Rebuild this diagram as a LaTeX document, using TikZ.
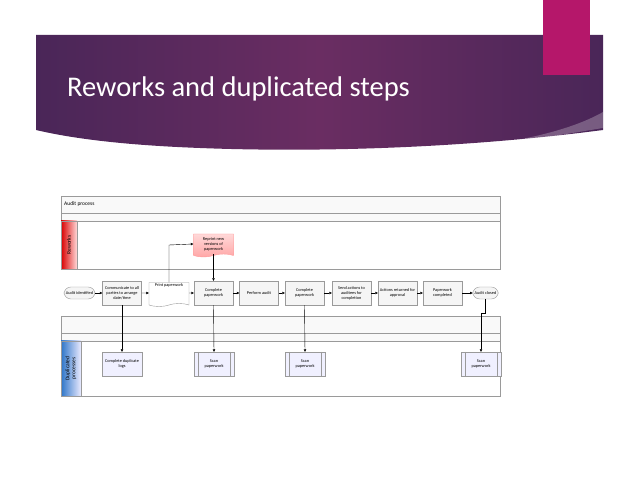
\documentclass[tikz,border=0pt]{standalone}
\usepackage{fontspec}
\setmainfont{Carlito}
\usetikzlibrary{arrows.meta,shapes.symbols,calc}
\definecolor{ban}{HTML}{4A2658}
\definecolor{banmid}{HTML}{6A2D62}
\definecolor{pinkr}{HTML}{B5176A}
\definecolor{lanel}{HTML}{9A9A9A}
\definecolor{bluh}{HTML}{2E75C8}
\tikzset{
 x=1pt,y=-1pt,
 proc/.style={draw=lanel,fill=gray!8,minimum width=39pt,minimum height=24pt,inner sep=1pt,align=center,font=\fontsize{4.3}{5}\selectfont},
 term/.style={draw=lanel,fill=gray!8,rounded corners=7pt,minimum height=12pt,inner sep=2pt,font=\fontsize{4.3}{5}\selectfont},
 doc/.style={tape,tape bend top=none,tape bend height=3pt,draw=lanel,minimum width=40pt,minimum height=24pt,inner sep=1pt,align=center,font=\fontsize{4.3}{5}\selectfont},
 dup/.style={draw=lanel,fill=blue!6,minimum width=40pt,minimum height=24pt,inner sep=1pt,align=center,font=\fontsize{4.3}{5}\selectfont},
 arr/.style={draw=black,-{Triangle[length=2.5pt,width=2.5pt]},line width=0.4pt},
}
\begin{document}
\begin{tikzpicture}
\useasboundingbox (0,0) rectangle (638,478);
% banner
\shade[left color=ban,right color=ban,middle color=banmid] (36,35) -- (603,35) -- (603,130) .. controls (450,150) and (300,152) .. (200,148) .. controls (120,145) and (70,138) .. (36,130) -- cycle;
\fill[white,opacity=0.25] (603,112) -- (603,128) .. controls (560,135) and (520,142) .. (470,147) .. controls (530,140) and (575,128) .. cycle;
\fill[pinkr] (543,0) rectangle (590,75);
\node[anchor=base west,text=white,font=\fontsize{28.5}{32}\selectfont,inner sep=0] (title) at (67,97) {Reworks and duplicated steps};
% lanes
\draw[lanel,fill=gray!5] (61,196) rectangle (500,213);
\node[anchor=west,font=\fontsize{5.5}{6}\selectfont,inner sep=0] (ap) at (64,204.5) {Audit process};
\draw[lanel,fill=gray!5] (61,213) rectangle (500,221);
\draw[lanel] (61,221) rectangle (500,269);
\shade[left color=red!85!black,right color=red!15] (61,221) rectangle (77,269);
\draw[lanel] (61,221) rectangle (77,269);
\node[rotate=90,font=\fontsize{5.5}{6}\selectfont,text=black] (rw) at (69,245) {Reworks};
\draw[lanel,fill=gray!5] (61,316) rectangle (500,333);
\draw[lanel,fill=gray!5] (61,333) rectangle (500,341);
\draw[lanel] (61,341) rectangle (500,396);
\shade[left color=bluh,right color=blue!8] (61,341) rectangle (81,396);
\draw[lanel] (61,341) rectangle (81,396);
\node[rotate=90,align=center,font=\fontsize{5.5}{6}\selectfont] (dp) at (71,368.5) {Duplicated\\processes};
% main flow
\node[term] (a1) at (79.5,293) {Audit identified};
\node[proc] (a2) at (122,293) {Communicate to all\\parties to arrange\\date/time};
\node[doc,fill=white] (a3) at (169,293) {Print paperwork\\[10pt]};
\node[proc] (a4) at (213.5,293) {Complete\\paperwork};
\node[proc] (a5) at (259,293) {Perform audit};
\node[proc] (a6) at (304.5,293) {Complete\\paperwork};
\node[proc] (a7) at (351.5,293) {Send actions to\\auditees for\\completion};
\node[proc] (a8) at (397.5,293) {Actions returned for\\approval};
\node[proc] (a9) at (442.5,293) {Paperwork\\completed};
\node[term] (a10) at (485.5,293) {Audit closed};
\node[doc,minimum height=23pt,top color=red!15,bottom color=red!35,draw=red!40] (rp) at (213.5,244) {Reprint new\\versions of\\paperwork};
\foreach \i/\j in {a1/a2,a2/a3,a3/a4,a4/a5,a5/a6,a6/a7,a7/a8,a8/a9,a9/a10}
 \draw[arr] (\i) -- (\j);
\draw[arr] (a3.north) -- (169,245) -- (rp.west);
\draw[arr] (rp.south) -- (a4.north);
% duplicated
\node[dup] (d1) at (122,364) {Complete duplicate\\logs};
\node[dup] (d2) at (214,364) {Scan\\paperwork};
\node[dup] (d3) at (305,364) {Scan\\paperwork};
\node[dup] (d4) at (481,364) {Scan\\paperwork};
\foreach \d in {d2,d3,d4}{
 \draw[lanel] ($(\d.north west)+(4,0)$) -- ($(\d.south west)+(4,0)$);
 \draw[lanel] ($(\d.north east)+(-4,0)$) -- ($(\d.south east)+(-4,0)$);}
\draw[arr] (a2.south) -- (d1.north);
\draw[arr] (a4.south) -- (d2.north);
\draw[arr] (a6.south) -- (d3.north);
\draw[arr] (a10.south) -- (485.5,313) -- (481,313) -- (d4.north);
\end{tikzpicture}
\end{document}
